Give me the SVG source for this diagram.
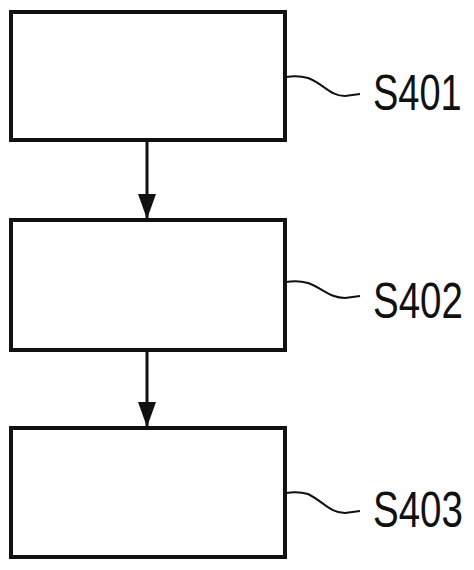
<svg xmlns="http://www.w3.org/2000/svg" width="474" height="570" viewBox="0 0 474 570">
<style>
.box{fill:#fff;stroke:#111;stroke-width:4}
.conn{stroke:#111;stroke-width:3;fill:none}
.lead{stroke:#111;stroke-width:2;fill:none}
.lbl{font-family:"Liberation Sans",Arial,sans-serif;font-size:50px;fill:#111}
</style>
<defs>
<marker id="ah" markerUnits="userSpaceOnUse" markerWidth="26" markerHeight="20" refX="25" refY="10" orient="auto" viewBox="0 0 26 20">
<path d="M0,1 L25,10 L0,19 Z" fill="#111"/>
</marker>
</defs>
<rect width="474" height="570" fill="#fff"/>
<g id="connectors">
<line class="conn" x1="147" y1="140" x2="147" y2="219" marker-end="url(#ah)"/>
<line class="conn" x1="147" y1="350" x2="147" y2="427" marker-end="url(#ah)"/>
</g>
<g id="S401">
<rect class="box" x="11" y="12" width="274" height="128"/>
<path class="lead" d="M286,77 Q298,75 308,78 C324,84 330,96 345,96 L360,94"/>
<text class="lbl" transform="translate(373,110) scale(0.76,1)" x="0" y="0">S401</text>
</g>
<g id="S402">
<rect class="box" x="11" y="220" width="274" height="130"/>
<path class="lead" d="M286,282 Q298,280 308,283 C324,289 330,298 345,298 L360,296"/>
<text class="lbl" transform="translate(373,318) scale(0.77,1)" x="0" y="0">S402</text>
</g>
<g id="S403">
<rect class="box" x="11" y="428" width="274" height="129"/>
<path class="lead" d="M286,493 Q298,491 308,494 C324,502 330,513 345,513 L360,511"/>
<text class="lbl" transform="translate(373,527) scale(0.77,1)" x="0" y="0">S403</text>
</g>
</svg>
